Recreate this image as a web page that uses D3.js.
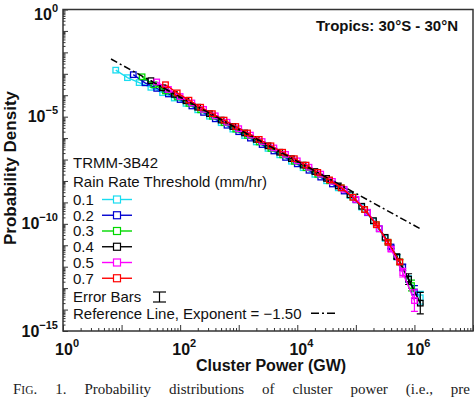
<!DOCTYPE html>
<html><head><meta charset="utf-8">
<script src="https://cdn.jsdelivr.net/npm/d3@7"></script>
<style>body{margin:0;background:#fff} svg{display:block}</style>
</head><body>
<svg id="c" width="474" height="399"></svg>
<script>
// ---------- DATA (log10 of Cluster Power [GW] and log10 of Probability Density) ----------
const seriesLabels = ["0.1", "0.2", "0.3", "0.4", "0.5", "0.7"];
const seriesColors = ["#18dcf0", "#0000d0", "#00d800", "#000000", "#ff00ff", "#ff0000"];

const logX_01 = [0.9,1.1,1.3,1.5,1.7,1.9,2.1,2.3,2.5,2.7,2.9,3.1,3.3,3.5,3.7,3.9,4.1,4.3,4.5,4.7,4.9,5.1,5.3,5.5,5.7,5.9,6.1];
const logY_01 = [-2.83,-3.18,-3.41,-3.63,-3.88,-4.13,-4.38,-4.68,-4.98,-5.28,-5.58,-5.88,-6.18,-6.48,-6.78,-7.08,-7.38,-7.69,-7.99,-8.32,-8.68,-9.22,-9.88,-10.68,-11.55,-12.58,-13.45];

const logX_02 = [1.2,1.4,1.6,1.8,2.0,2.2,2.4,2.6,2.8,3.0,3.2,3.4,3.6,3.8,4.0,4.2,4.4,4.6,4.8,5.0,5.2,5.4,5.6,5.8,6.0];
const logY_02 = [-3.04,-3.42,-3.68,-3.94,-4.20,-4.50,-4.80,-5.10,-5.40,-5.70,-6.00,-6.30,-6.60,-6.90,-7.20,-7.50,-7.82,-8.14,-8.47,-8.88,-9.48,-10.23,-11.08,-12.03,-13.18];

const logX_03 = [1.35,1.55,1.75,1.95,2.15,2.35,2.55,2.75,2.95,3.15,3.35,3.55,3.75,3.95,4.15,4.35,4.55,4.75,4.95,5.15,5.35,5.55,5.75,5.95];
const logY_03 = [-3.14,-3.51,-3.80,-4.08,-4.38,-4.68,-4.98,-5.28,-5.58,-5.88,-6.18,-6.48,-6.78,-7.08,-7.38,-7.69,-7.99,-8.32,-8.76,-9.33,-10.04,-10.86,-11.78,-12.88];

const logX_04 = [1.5,1.7,1.9,2.1,2.3,2.5,2.7,2.9,3.1,3.3,3.5,3.7,3.9,4.1,4.3,4.5,4.7,4.9,5.1,5.3,5.5,5.7,5.9,6.1];
const logY_04 = [-3.32,-3.65,-3.96,-4.26,-4.56,-4.86,-5.16,-5.46,-5.76,-6.06,-6.36,-6.66,-6.96,-7.26,-7.56,-7.88,-8.23,-8.64,-9.18,-9.85,-10.63,-11.53,-12.58,-13.70];

const logX_05 = [1.6,1.8,2.0,2.2,2.4,2.6,2.8,3.0,3.2,3.4,3.6,3.8,4.0,4.2,4.4,4.6,4.8,5.0,5.2,5.4,5.6,5.8,6.0];
const logY_05 = [-3.38,-3.73,-4.06,-4.36,-4.66,-4.96,-5.26,-5.56,-5.86,-6.16,-6.46,-6.76,-7.06,-7.36,-7.68,-8.02,-8.39,-8.86,-9.46,-10.23,-11.18,-12.28,-13.58];

const logX_07 = [1.75,1.95,2.15,2.35,2.55,2.75,2.95,3.15,3.35,3.55,3.75,3.95,4.15,4.35,4.55,4.75,4.95,5.15,5.35,5.55,5.75];
const logY_07 = [-3.51,-3.89,-4.23,-4.56,-4.86,-5.16,-5.46,-5.76,-6.06,-6.36,-6.66,-6.96,-7.26,-7.60,-7.95,-8.32,-8.76,-9.33,-10.04,-10.86,-11.78];

// error bar half-widths (decades) for the last three points of each series
const errTail_01 = [0.08, 0.15, 0.30];
const errTail_02 = [0.08, 0.15, 0.30];
const errTail_03 = [0.08, 0.12, 0.25];
const errTail_04 = [0.10, 0.25, 0.50];
const errTail_05 = [0.10, 0.20, 0.50];
const errTail_07 = [0.04, 0.06, 0.10];

// reference power law line
const refExponent = -1.5;
const refCoef = 0.083;
const refXRange = [6.6, 1.35e6];

const xTickExps = [0, 2, 4, 6];
const yTickExps = [0, -5, -10, -15];

const titleText = "Tropics: 30°S - 30°N";
const xLabel = "Cluster Power (GW)";
const yLabel = "Probability Density";
const legendTitle1 = "TRMM-3B42";
const legendTitle2 = "Rain Rate Threshold (mm/hr)";
const legendErr = "Error Bars";
const legendRef = "Reference Line, Exponent = \u22121.50";

// ---------- BUILD ----------
const allX = [logX_01, logX_02, logX_03, logX_04, logX_05, logX_07];
const allY = [logY_01, logY_02, logY_03, logY_04, logY_05, logY_07];
const allE = [errTail_01, errTail_02, errTail_03, errTail_04, errTail_05, errTail_07];
const series = seriesLabels.map((lab, i) => {
  const n = allX[i].length, e = allE[i];
  return {
    label: lab, color: seriesColors[i],
    pts: allX[i].map((lx, j) => ({x: Math.pow(10, lx), y: Math.pow(10, allY[i][j]),
      err: (j >= n - e.length) ? e[j - (n - e.length)] : 0}))
  };
});

const FONT = "'Liberation Sans', Arial, Helvetica, sans-serif";
const svg = d3.select("#c");
const M = {l: 63, r: 473, t: 9.5, b: 331};
const x = d3.scaleLog().domain([1, 1e7]).range([M.l, M.r]);
const y = d3.scaleLog().domain([1e-15, 1]).range([M.b, M.t]);

svg.append("rect").attr("width", 474).attr("height", 399).attr("fill", "#fff");

svg.append("defs").append("clipPath").attr("id", "clip")
  .append("rect").attr("x", M.l).attr("y", M.t).attr("width", M.r - M.l).attr("height", M.b - M.t);

// ticks
const xMinor = [], xMajor = [];
for (let k = 0; k <= 6; k++) { xMajor.push(Math.pow(10, k)); for (let m = 2; m <= 9; m++) xMinor.push(m * Math.pow(10, k)); }
xMajor.push(1e7);
const yMinor = [], yMajor = [];
for (let k = -15; k <= -1; k++) { yMajor.push(Math.pow(10, k)); for (let m = 2; m <= 9; m++) yMinor.push(m * Math.pow(10, k)); }
yMajor.push(1);

function styleAxis(g) {
  g.select(".domain").remove();
  g.selectAll("line").attr("stroke", "#333").attr("stroke-width", 1);
  g.selectAll("text").remove();
}
svg.append("g").attr("transform", `translate(0,${M.b})`)
  .call(d3.axisBottom(x).tickValues(xMinor).tickSize(-3).tickFormat(() => "")).call(styleAxis);
svg.append("g").attr("transform", `translate(0,${M.b})`)
  .call(d3.axisBottom(x).tickValues(xMajor).tickSize(-6).tickFormat(() => "")).call(styleAxis);
svg.append("g").attr("transform", `translate(${M.l},0)`)
  .call(d3.axisLeft(y).tickValues(yMinor).tickSize(-2.5).tickFormat(() => "")).call(styleAxis);
svg.append("g").attr("transform", `translate(${M.l},0)`)
  .call(d3.axisLeft(y).tickValues(yMajor).tickSize(-5).tickFormat(() => "")).call(styleAxis);

// frame
svg.append("rect").attr("x", M.l).attr("y", M.t).attr("width", M.r - M.l).attr("height", M.b - M.t)
  .attr("fill", "none").attr("stroke", "#333").attr("stroke-width", 1.5);

// tick labels
const tmp = svg.append("text").attr("font-family", FONT).attr("font-weight", "bold").attr("font-size", 16).text("10");
const w10 = tmp.node().getComputedTextLength();
tmp.remove();
xTickExps.forEach(e => {
  const t = svg.append("text").attr("font-family", FONT).attr("font-weight", "bold").attr("font-size", 16)
    .attr("x", x(Math.pow(10, e)) - w10 / 2 + 1).attr("y", 355).attr("fill", "#111");
  t.append("tspan").text("10");
  t.append("tspan").attr("font-size", 11).attr("dy", -8).text(String(e));
});
yTickExps.forEach(e => {
  const yy = Math.max(y(Math.pow(10, e)), 14) + 5.5;
  const t = svg.append("text").attr("font-family", FONT).attr("font-weight", "bold").attr("font-size", 16)
    .attr("x", 58).attr("y", yy).attr("text-anchor", "end").attr("fill", "#111");
  t.append("tspan").text("10");
  t.append("tspan").attr("font-size", 11).attr("dy", -8).text(e === 0 ? "0" : "\u2212" + Math.abs(e));
});

// axis labels
svg.append("text").attr("font-family", FONT).attr("font-weight", "bold").attr("font-size", 16)
  .attr("x", 271).attr("y", 371).attr("text-anchor", "middle").attr("fill", "#111").text(xLabel);
svg.append("text").attr("font-family", FONT).attr("font-weight", "bold").attr("font-size", 17)
  .attr("transform", "translate(16,168) rotate(-90)").attr("text-anchor", "middle").attr("fill", "#111").text(yLabel);

// title
svg.append("text").attr("font-family", FONT).attr("font-weight", "bold").attr("font-size", 15)
  .attr("x", 458).attr("y", 31).attr("text-anchor", "end").attr("fill", "#111").text(titleText);

// data
const plot = svg.append("g").attr("clip-path", "url(#clip)");
const line = d3.line().x(d => x(d.x)).y(d => y(d.y));
const MS = 5.5;
series.forEach(s => {
  const g = plot.append("g");
  g.append("path").datum(s.pts).attr("d", line).attr("fill", "none")
    .attr("stroke", s.color).attr("stroke-width", 1.4);
  const eb = s.pts.filter(p => p.err > 0);
  eb.forEach(p => {
    const y1 = y(p.y * Math.pow(10, p.err)), y2 = y(p.y / Math.pow(10, p.err)), cx = x(p.x);
    g.append("line").attr("x1", cx).attr("x2", cx).attr("y1", y1).attr("y2", y2).attr("stroke", s.color).attr("stroke-width", 1.2);
    [y1, y2].forEach(yy => g.append("line").attr("x1", cx - 3.5).attr("x2", cx + 3.5).attr("y1", yy).attr("y2", yy)
      .attr("stroke", s.color).attr("stroke-width", 1.2));
  });
  g.selectAll("rect.m").data(s.pts).join("rect").attr("class", "m")
    .attr("x", d => x(d.x) - MS / 2).attr("y", d => y(d.y) - MS / 2)
    .attr("width", MS).attr("height", MS).attr("fill", "none")
    .attr("stroke", s.color).attr("stroke-width", 1.3);
});

// reference line
const refPts = refXRange.map(v => ({x: v, y: refCoef * Math.pow(v, refExponent)}));
plot.append("path").datum(refPts).attr("d", line).attr("fill", "none")
  .attr("stroke", "#000").attr("stroke-width", 1.5).attr("stroke-dasharray", "7,3,2,3");

// legend
const lg = svg.append("g").attr("font-family", FONT).attr("font-size", 15).attr("fill", "#111");
lg.append("text").attr("x", 73).attr("y", 168).text(legendTitle1);
lg.append("text").attr("x", 73).attr("y", 186.5).text(legendTitle2);
series.forEach((s, i) => {
  const cy = 199.5 + i * 15.75;
  lg.append("text").attr("x", 73).attr("y", cy + 5.4).text(s.label);
  lg.append("line").attr("x1", 102).attr("x2", 132).attr("y1", cy).attr("y2", cy)
    .attr("stroke", s.color).attr("stroke-width", 1.4);
  lg.append("rect").attr("x", 117 - 3.5).attr("y", cy - 3.5).attr("width", 7).attr("height", 7)
    .attr("fill", "#fff").attr("stroke", s.color).attr("stroke-width", 1.2);
});
const eY = 297;
lg.append("text").attr("x", 73).attr("y", eY + 5.4).text(legendErr);
[[159.5, 159.5, eY - 5, eY + 5], [153, 166, eY - 5, eY - 5], [153, 166, eY + 5, eY + 5]].forEach(c =>
  lg.append("line").attr("x1", c[0]).attr("x2", c[1]).attr("y1", c[2]).attr("y2", c[3])
    .attr("stroke", "#000").attr("stroke-width", 1.2));
const rY = 313.3;
lg.append("text").attr("x", 73).attr("y", rY + 5.4).text(legendRef);
lg.append("line").attr("x1", 311).attr("x2", 337).attr("y1", rY).attr("y2", rY)
  .attr("stroke", "#000").attr("stroke-width", 1.5).attr("stroke-dasharray", "8,3,2,3");

// caption
const cap = svg.append("text").attr("font-family", "'Liberation Serif', 'Times New Roman', serif")
  .attr("font-size", 15).attr("x", 13).attr("y", 394).attr("fill", "#222");
cap.append("tspan").text("F");
cap.append("tspan").attr("font-size", 11.5).text("IG");
cap.append("tspan").text(". 1. Probability distributions of cluster power (i.e., pre");
const natural = cap.node().getComputedTextLength();
const spaces = 8;
cap.attr("word-spacing", Math.max(0, (470 - 13 - natural) / spaces));
</script>
</body></html>
